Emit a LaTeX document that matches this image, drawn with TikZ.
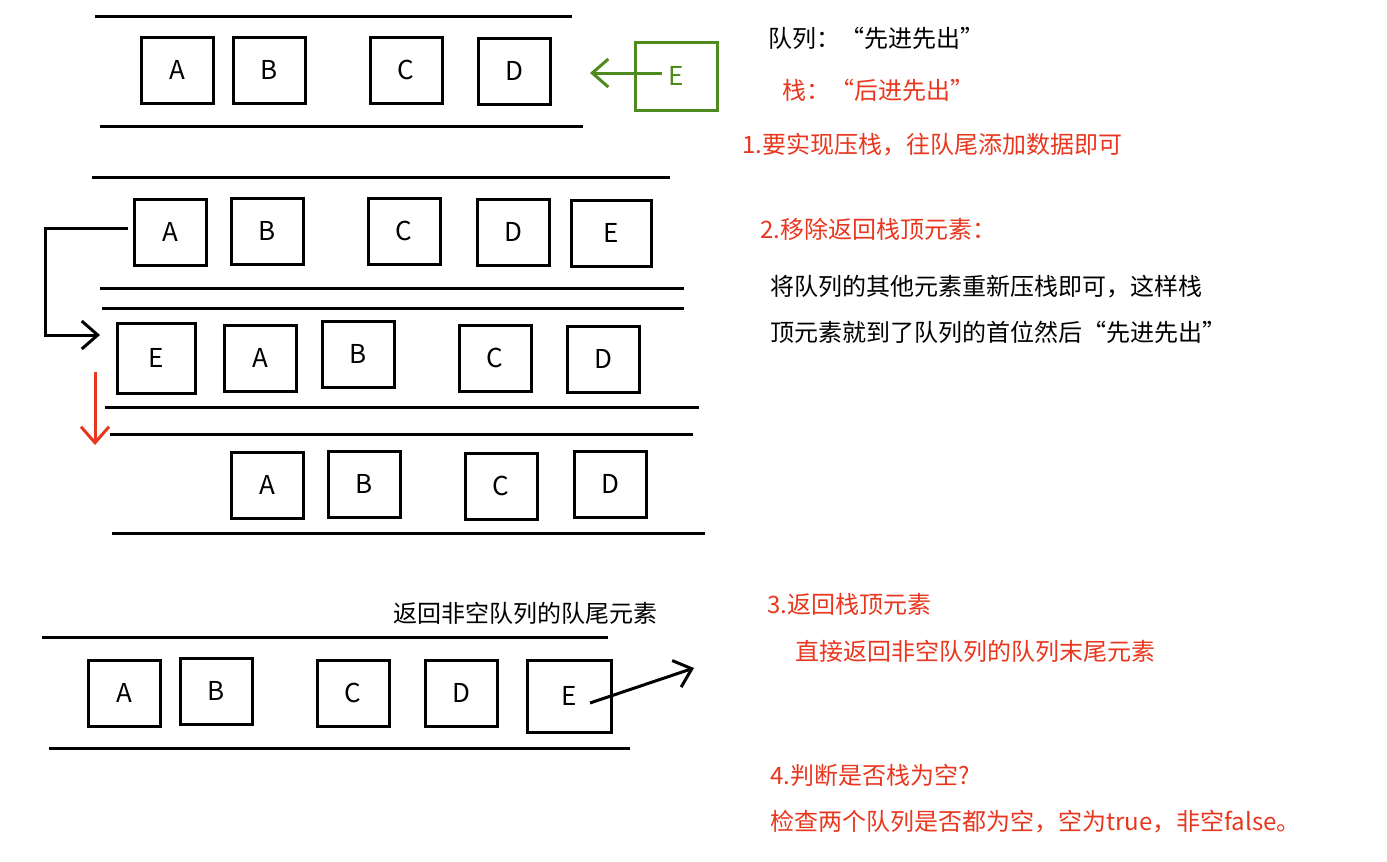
\documentclass[tikz,border=0pt]{standalone}
\usetikzlibrary{arrows.meta}
\usepackage{fontspec}
\setmainfont{Noto Sans CJK SC}
\definecolor{rd}{HTML}{E8371E}
\definecolor{gr}{HTML}{4E8A1E}
\begin{document}
\begin{tikzpicture}[x=0.5pt,y=-0.5pt,
  bx/.style={draw,line width=1.5pt,minimum width=36pt,minimum height=33pt,inner sep=0pt,font=\fontsize{13}{15}\selectfont},
  rl/.style={line width=1.5pt},
  tx/.style={anchor=west,inner sep=0pt,font=\fontsize{12}{14}\selectfont}]
\useasboundingbox (0,0) rectangle (1387,862);
% row 1
\draw[rl] (95,16)--(572,16); \draw[rl] (100,126)--(583,126);
\node[bx] (a1) at (177,70) {A};
\node[bx] (b1) at (269,70) {B};
\node[bx] (c1) at (406,70) {C};
\node[bx] (d1) at (514,71) {D};
\node[bx,draw=gr,text=gr,minimum width=41pt,minimum height=34pt] (e1) at (676,76) {E};
\coordinate (g1) at (590,73);
\draw[gr,line width=1.5pt,-{Straight Barb[length=8pt,width=14pt]}] (e1.center)++(-14,-3) -- (g1);
% row 2
\draw[rl] (92,177)--(670,177); \draw[rl] (100,288)--(684,288);
\node[bx] (a2) at (170,232) {A};
\node[bx] (b2) at (267,231) {B};
\node[bx] (c2) at (404,231) {C};
\node[bx] (d2) at (513,232) {D};
\node[bx,minimum width=40pt] (e2) at (611,233) {E};
% row 3
\draw[rl] (102,308)--(684,308); \draw[rl] (105,407)--(699,407);
\node[bx,minimum width=39pt,minimum height=35pt] (e3) at (156,358) {E};
\node[bx] (a3) at (260,358) {A};
\node[bx] (b3) at (358,354) {B};
\node[bx] (c3) at (495,358) {C};
\node[bx] (d3) at (603,359) {D};
\coordinate (k1) at (45,228); \coordinate (k2) at (45,335); \coordinate (k3) at (100,335);
\draw[line width=1.5pt,-{Straight Barb[length=8pt,width=14pt]}] (a2.west)++(-5,-4) -- (k1) -- (k2) -- (k3);
\coordinate (r1) at (95,372); \coordinate (r2) at (95,445);
\draw[rd,line width=1.5pt,-{Straight Barb[length=8pt,width=14pt]}] (r1)--(r2);
% row 4
\draw[rl] (110,434)--(693,434); \draw[rl] (112,533)--(705,533);
\node[bx] (a4) at (267,485) {A};
\node[bx] (b4) at (364,484) {B};
\node[bx] (c4) at (501,486) {C};
\node[bx] (d4) at (610,484) {D};
% row 5
\node[tx,anchor=center] (lb) at (525,613) {返回非空队列的队尾元素};
\draw[rl] (42,637)--(608,637); \draw[rl] (49,748)--(630,748);
\node[bx] (a5) at (124,693) {A};
\node[bx] (b5) at (216,691) {B};
\node[bx] (c5) at (353,693) {C};
\node[bx] (d5) at (461,693) {D};
\node[bx,minimum width=42pt,minimum height=36pt] (e5) at (569,696) {E};
\coordinate (t5) at (694,668);
\draw[line width=1.5pt,-{Straight Barb[length=8pt,width=14pt]}] (590,703) -- (t5);
% texts
\node[tx] (t1) at (768,38) {队列：“先进先出”};
\node[tx,text=rd] (t2) at (782,90) {栈：“后进先出”};
\node[tx,text=rd] (t3) at (742,145) {1.要实现压栈，往队尾添加数据即可};
\node[tx,text=rd] (t4) at (760,229) {2.移除返回栈顶元素：};
\node[tx] (t5a) at (770,287) {将队列的其他元素重新压栈即可，这样栈};
\node[tx] (t6) at (770,332) {顶元素就到了队列的首位然后“先进先出”};
\node[tx,text=rd] (t7) at (767,604) {3.返回栈顶元素};
\node[tx,text=rd] (t8) at (795,651) {直接返回非空队列的队列末尾元素};
\node[tx,text=rd] (t9) at (770,775) {4.判断是否栈为空?};
\node[tx,text=rd] (t10) at (770,822) {检查两个队列是否都为空，空为true，非空false。};
\end{tikzpicture}
\end{document}
